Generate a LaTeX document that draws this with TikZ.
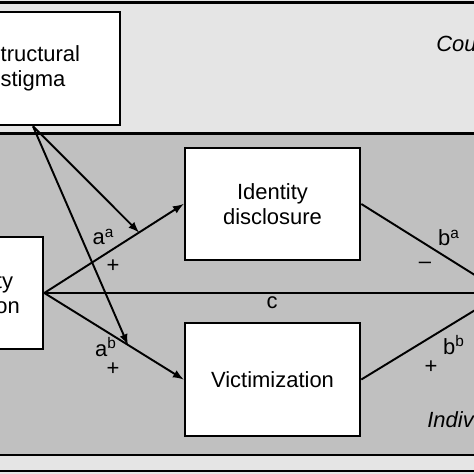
\documentclass[tikz,border=0pt]{standalone}
\usepackage{fontspec}
\setmainfont{Liberation Sans}

\definecolor{countrygray}{HTML}{E5E5E5}
\definecolor{indivgray}{HTML}{C0C0C0}
\newcommand{\boxfont}{\fontsize{12.5}{14}\selectfont}

\begin{document}
\begin{tikzpicture}[
    box/.style={draw, line width=1.5pt, fill=white, align=center, font=\boxfont},
    arr/.style={line width=1.1pt, -latex},
    lab/.style={font=\boxfont, inner sep=0pt}
  ]
  \useasboundingbox (0,0) rectangle (9.48,9.48);
  \fill[countrygray] (-3,-3) rectangle (12.5,12.5);

  % Levels
  \draw[line width=1.7pt, fill=countrygray] (-3,6.80) rectangle (12.5,9.42);
  \draw[line width=1.7pt, fill=indivgray] (-3,0.38) rectangle (12.5,6.80);
  \draw[line width=1.7pt, fill=countrygray] (-3,-3) rectangle (12.5,0.06);

  \node[lab, anchor=base west, font=\boxfont\itshape] (country) at (8.72,8.44) {Country level};
  \node[lab, anchor=base west, font=\boxfont\itshape] (indiv) at (8.54,0.92) {Individual level};

  % Boxes
  \node[box, minimum width=3.48cm, minimum height=2.26cm] (stigma) at (0.66,8.11) {Structural\\stigma};
  \node[box, minimum width=4.2cm, minimum height=2.24cm] (ident) at (-1.24,3.62) {Sexual minority\\self-identification};
  \node[box, minimum width=3.5cm, minimum height=2.24cm] (discl) at (5.45,5.40) {Identity\\disclosure};
  \node[box, minimum width=3.5cm, minimum height=2.26cm] (victim) at (5.45,1.89) {Victimization};

  % Outcome side (off the right edge)
  \coordinate (outA) at (9.75,3.82);
  \coordinate (outC) at (9.75,3.62);
  \coordinate (outB) at (9.75,3.43);

  % Paths
  \draw[arr] (ident.east) -- coordinate[pos=0.68] (modA) (discl.west);
  \draw[arr] (ident.east) -- coordinate[pos=0.6] (modB) (victim.west);
  \draw[arr] (ident.east) -- (outC);
  \draw[arr] (discl.east) -- (outA);
  \draw[arr] (victim.east) -- (outB);
  \draw[arr] (stigma.south) -- (modA);
  \draw[arr] (stigma.south) -- (modB);

  % Path labels
  \node[lab] (aa) at (2.07,4.74) {a\textsuperscript{a}};
  \node[lab] (aasign) at (2.26,4.16) {+};
  \node[lab] (ab) at (2.12,2.54) {a\textsuperscript{b}};
  \node[lab] (absign) at (2.26,2.10) {+};
  \node[lab] (ba) at (8.98,4.72) {b\textsuperscript{a}};
  \node[lab] (basign) at (8.5,4.18) {--};
  \node[lab] (bb) at (9.08,2.58) {b\textsuperscript{b}};
  \node[lab] (bbsign) at (8.62,2.14) {+};
  \node[lab] (c) at (5.44,3.42) {c};
\end{tikzpicture}
\end{document}
